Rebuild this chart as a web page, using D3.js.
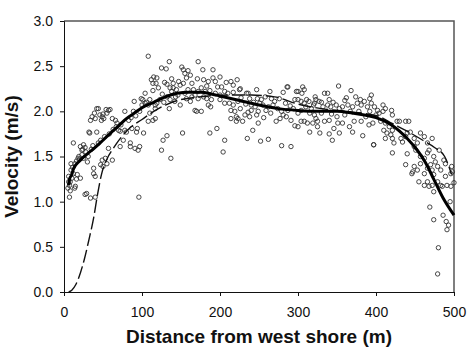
<!DOCTYPE html>
<html>
<head>
<meta charset="utf-8">
<script src="https://cdn.jsdelivr.net/npm/d3@7"></script>
<style>
  body { margin: 0; background: #fff; }
  #graph { width: 474px; height: 353px; }
  .axis text { font-family: Arial, "Liberation Sans", sans-serif; font-size: 14px; fill: #111; }
  .axis path, .axis line { stroke: #111; stroke-width: 1; }
  .title { font-family: Arial, "Liberation Sans", sans-serif; font-weight: bold; font-size: 19px; fill: #111; }
</style>
</head>
<body>
<div id="graph"></div>
<script>
// observed velocities [distance (m), velocity (m/s)]
var observed = [
  [7,1.18],[8,1.22],[14.5,1.17],[21,1.26],[17,1.30],[29,1.09],[34,1.04],[40,1.05],[38,1.31],[40,1.28],
  [49,1.46],[53,1.48],[62,1.46],[96,1.05],[7,1.05],[13.7,1.15],[12,1.31],[10,1.26],[27,1.08],[47,1.41],
  [50,1.39],[38,1.37],[55,1.42],[12,1.65],[21,1.61],[23,1.57],[25,1.48],[31,1.50],[30,1.44],[18,1.48],
  [19,1.50],[25,1.63],[27,1.60],[24,1.58],[33,1.76],[42,1.77],[40,1.92],[44,2.03],[55,1.98],[59,2.02],
  [46,1.96],[48,1.90],[68,1.87],[70,1.79],[80,1.77],[87,1.81],[76,1.68],[93,1.77],[91,1.59],[95,1.57],
  [89,2.0],[78,2.0],[85,1.65],[97,1.61],[90,2.11],[99,2.14],[42,2.03],[54,2.02],[57,2.01],[39,1.98],
  [50,1.97],[36,1.94],[49,1.94],[51,1.92],[34,1.90],[62,1.92],[66,1.90],[72,1.78],[78,1.79],[94,1.81],
  [32,1.77],[72,1.61],[57,1.59],[85,1.61],[9,1.35],[11,1.38],[14,1.42],[16,1.45],[20,1.47],[23,1.52],
  [28,1.55],[35,1.58],[37,1.62],[44,1.65],[47,1.68],[52,1.72],[58,1.75],[63,1.8],[67,1.83],[73,1.85],
  [83,1.9],[86,1.93],[92,1.95],[97,2.0],[6,1.22],[6,1.28],[8,1.12],[5,1.15],[16,1.25],[9,1.42],
  [108,2.61],[135,2.55],[125,2.48],[131,2.47],[151,2.49],[153,2.46],[159,2.45],[172,2.55],[178,2.46],[191,2.46],
  [115,2.38],[119,2.37],[112,2.35],[118,2.31],[114,2.31],[138,2.36],[140,2.31],[132,2.30],[155,2.42],[162,2.40],
  [157,2.37],[171,2.36],[179,2.35],[185,2.33],[191,2.37],[194,2.33],[147,2.33],[149,2.29],[153,2.31],[164,2.31],
  [114,2.23],[136,2.26],[138,2.22],[144,2.24],[140,2.26],[159,2.24],[166,2.24],[172,2.22],[181,2.22],[187,2.23],
  [194,2.20],[200,2.18],[101,2.13],[106,2.10],[100,2.07],[108,2.07],[117,2.07],[123,2.13],[132,2.16],[136,2.13],
  [142,2.11],[149,2.07],[162,2.11],[172,2.14],[179,2.16],[183,2.14],[189,2.13],[168,2.01],[170,2.0],[176,2.0],
  [185,2.07],[188,2.05],[135,2.03],[110,1.98],[114,1.90],[108,1.89],[117,1.92],[102,1.76],[132,1.73],[127,1.68],
  [152,1.76],[125,1.57],[137,1.48],[187,1.76],[196,1.81],[104,2.09],[110,2.13],[117,2.03],[119,2.09],[126,2.19],
  [146,2.18],[155,2.2],[168,2.18],[176,2.26],[183,2.28],[197,2.27],[128,2.1],[143,2.16],[157,2.14],[164,2.16],
  [129,2.32],[104,2.2],[121,2.26],
  [200,2.38],[208,2.32],[214,2.33],[217,2.29],[222,2.35],[202,2.27],[206,2.22],[210,2.20],[217,2.21],[225,2.24],
  [236,2.20],[238,2.14],[247,2.24],[248,2.14],[264,2.22],[266,2.14],[281,2.21],[287,2.27],[298,2.22],[200,2.13],
  [206,2.09],[212,2.09],[217,2.07],[223,2.11],[214,2.01],[219,2.0],[221,1.94],[223,1.92],[214,1.92],[221,1.89],
  [229,1.89],[232,1.96],[238,1.94],[240,2.07],[245,2.05],[251,2.09],[255,2.07],[259,2.01],[262,2.05],[268,2.07],
  [274,2.03],[279,2.0],[281,1.96],[285,1.94],[272,1.89],[277,1.92],[287,2.01],[294,2.03],[296,2.13],[249,2.0],
  [240,2.01],[242,1.79],[249,1.87],[296,1.84],[206,1.68],[204,1.55],[235,1.70],[252,1.67],[262,1.69],[279,1.62],
  [291,1.61],[226,2.25],[234,2.2],[286,2.27],[227,2.15],[233,2.08],[243,2.1],[253,2.13],[258,2.16],[270,2.11],
  [276,2.14],[284,2.09],[290,2.06],[226,2.03],[236,1.99],[247,1.96],[256,1.93],[265,1.98],[291,1.9],[300,1.98],
  [306,2.27],[308,2.24],[305,2.20],[300,2.22],[334,2.20],[338,2.20],[340,2.13],[352,2.28],[368,2.23],[374,2.16],
  [394,2.18],[300,2.13],[304,2.11],[308,2.09],[314,2.11],[321,2.09],[323,2.13],[327,2.11],[310,2.05],[317,2.03],
  [304,2.01],[332,2.05],[338,2.07],[342,2.05],[349,2.07],[353,2.03],[357,2.05],[364,2.07],[370,2.05],[376,2.09],
  [381,2.07],[385,2.11],[389,2.05],[394,2.09],[398,2.05],[315,1.98],[321,1.96],[323,1.92],[325,1.89],[325,1.83],
  [308,1.89],[312,1.87],[319,1.87],[304,1.89],[334,1.89],[340,1.90],[346,1.81],[351,1.87],[357,1.87],[366,1.83],
  [372,1.89],[381,1.89],[387,1.94],[391,1.85],[396,1.87],[315,1.77],[328,1.76],[340,1.75],[353,1.76],[344,1.68],
  [370,1.77],[383,1.73],[397,1.63],[300,1.83],[322,2.16],[330,2.1],[345,2.1],[360,2.12],[367,2.0],[378,2.0],
  [392,2.0],[360,1.96],[343,1.97],[330,1.98],[350,1.94],[362,2.15],[392,2.14],[380,2.13],[311,2.13],[320,2.07],
  [409,2.07],[412,2.03],[409,2.0],[420,2.01],[421,1.96],[402,2.01],[404,1.98],[400,1.96],[427,1.89],[430,1.89],
  [438,1.89],[442,1.89],[406,1.89],[412,1.87],[417,1.83],[421,1.79],[410,1.79],[414,1.76],[419,1.74],[412,1.70],
  [421,1.70],[423,1.65],[432,1.70],[434,1.66],[438,1.72],[440,1.76],[444,1.77],[449,1.70],[453,1.65],[457,1.76],
  [462,1.72],[466,1.65],[472,1.70],[397,1.63],[421,1.54],[440,1.53],[449,1.61],[451,1.57],[457,1.50],[462,1.48],
  [466,1.54],[468,1.57],[474,1.50],[476,1.44],[481,1.57],[479,1.39],[438,1.41],[447,1.33],[449,1.39],[453,1.35],
  [457,1.42],[462,1.31],[466,1.37],[470,1.41],[472,1.35],[474,1.30],[483,1.35],[487,1.46],[489,1.42],[496,1.31],
  [455,1.22],[462,1.18],[466,1.22],[468,1.17],[472,1.18],[479,1.22],[483,1.18],[485,1.17],[491,1.18],[489,1.28],
  [496,1.17],[500,1.21],[474,1.11],[446,1.31],[469,0.94],[474,0.80],[486,0.85],[490,0.78],[493,0.74],[491,0.69],
  [480,0.49],[479,0.20],[495,1.00],[497,1.39],[498,1.33]
];

// fitted profiles
var fitSolid = [
  [6,1.18],[7,1.25],[10,1.3],[12,1.36],[20,1.45],[30,1.53],[40,1.6],[50,1.68],[61,1.77],[70,1.84],
  [80,1.92],[90,1.98],[100,2.04],[115,2.1],[130,2.16],[145,2.2],[160,2.21],[175,2.21],[190,2.19],[200,2.17],
  [225,2.12],[250,2.07],[275,2.03],[300,2.01],[325,2.0],[350,2.0],[370,1.98],[385,1.96],[400,1.93],[420,1.85],
  [440,1.70],[452,1.58],[463,1.44],[474,1.25],[486,1.04],[500,0.85]
];
var fitDashed = [
  [6,0],[10,0.02],[15,0.08],[19,0.16],[26,0.36],[32,0.58],[38,0.82],[43,1.08],[48,1.3],[55,1.47],
  [64,1.6],[74,1.72],[85,1.82],[100,1.91],[117,2.01],[130,2.07],[145,2.12],[165,2.15],[185,2.17],[210,2.18],
  [240,2.18],[270,2.16],[300,2.08],[330,2.03],[360,2.0],[390,1.97],[405,1.94],[420,1.87],[440,1.78],[460,1.68],
  [475,1.6],[488,1.5],[497,1.3]
];

var xTicks = [0, 100, 200, 300, 400, 500];
var yTicks = [0, 0.5, 1.0, 1.5, 2.0, 2.5, 3.0];

var width = 474, height = 353;
var margin = { top: 21, left: 64, bottom: 61, right: 20 };
var chartWidth = width - margin.left - margin.right;
var chartHeight = height - margin.top - margin.bottom;

var svg = d3.select("#graph").append("svg").attr("width", width).attr("height", height);

var xScale = d3.scaleLinear().domain([0, 500]).range([0, chartWidth]);
var yScale = d3.scaleLinear().domain([0, 3]).range([chartHeight, 0]);

var chart = svg.append("g").attr("transform", "translate(" + [margin.left, margin.top] + ")");

// frame on top and right
chart.append("path")
  .attr("d", "M0,0H" + chartWidth + "V" + chartHeight)
  .attr("fill", "none")
  .attr("stroke", "#555")
  .attr("stroke-width", 1.5);

chart.append("g")
  .attr("class", "axis y")
  .call(d3.axisLeft(yScale).tickValues(yTicks).tickFormat(d3.format(".1f")).tickSizeOuter(0).tickSize(4).tickPadding(7));

chart.append("g")
  .attr("class", "axis x")
  .attr("transform", "translate(0," + chartHeight + ")")
  .call(d3.axisBottom(xScale).tickValues(xTicks).tickFormat(d3.format("d")).tickSizeOuter(0).tickSize(4).tickPadding(11));

chart.selectAll(".point")
  .data(observed)
  .enter()
  .append("circle")
  .attr("class", "point")
  .attr("cx", function(d) { return xScale(d[0]); })
  .attr("cy", function(d) { return yScale(d[1]); })
  .attr("r", 2.2)
  .attr("fill", "none")
  .attr("stroke", "#333")
  .attr("stroke-width", 0.9);

var line = d3.line()
  .x(function(d) { return xScale(d[0]); })
  .y(function(d) { return yScale(d[1]); })
  .curve(d3.curveMonotoneX);

chart.append("path")
  .datum(fitDashed)
  .attr("d", line)
  .attr("fill", "none")
  .attr("stroke", "#111")
  .attr("stroke-width", 1.4)
  .attr("stroke-dasharray", "13,4");

chart.append("path")
  .datum(fitSolid)
  .attr("d", line)
  .attr("fill", "none")
  .attr("stroke", "#000")
  .attr("stroke-width", 3);

svg.append("text")
  .attr("class", "title")
  .attr("text-anchor", "middle")
  .attr("x", margin.left + chartWidth / 2)
  .attr("y", 343)
  .text("Distance from west shore (m)");

svg.append("text")
  .attr("class", "title")
  .attr("text-anchor", "middle")
  .attr("transform", "translate(18," + (margin.top + chartHeight / 2) + ") rotate(-90)")
  .text("Velocity (m/s)");
</script>
</body>
</html>
